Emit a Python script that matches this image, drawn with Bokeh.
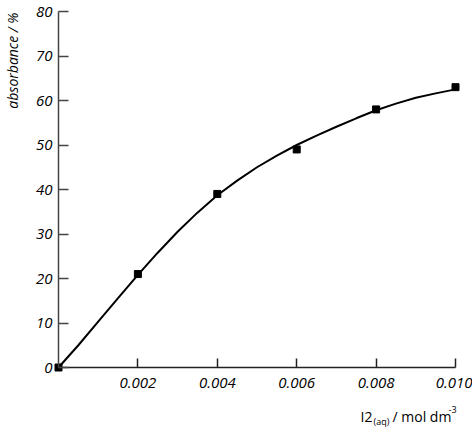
from bokeh.plotting import figure
from bokeh.models import Range1d, FixedTicker, Label
from bokeh.embed import file_html
from bokeh.resources import INLINE

# measured points
conc = [0.000, 0.002, 0.004, 0.006, 0.008, 0.010]
absorb = [0, 21, 39, 49, 58, 63]

# smooth curve
curve_x = [0.0000, 0.0005, 0.0010, 0.0015, 0.0020, 0.0025, 0.0030, 0.0035, 0.0040,
           0.0045, 0.0050, 0.0055, 0.0060, 0.0065, 0.0070, 0.0075, 0.0080,
           0.0085, 0.0090, 0.0095, 0.0100]
curve_y = [0.0, 5.0, 10.3, 15.6, 20.8, 25.8, 30.5, 34.8, 38.7,
           42.0, 45.0, 47.6, 50.0, 52.1, 54.1, 56.0, 57.8,
           59.3, 60.6, 61.6, 62.5]

x_ticks = [0.002, 0.004, 0.006, 0.008, 0.010]
x_tick_labels = ["0.002", "0.004", "0.006", "0.008", "0.010"]
y_ticks = [0, 10, 20, 30, 40, 50, 60, 70, 80]

FONT = "Open Sans"
W, H = 472, 429
# axes box inside the canvas (pixels): left, right, top, bottom
L, R, T, B = 58, 455, 11, 367
XMAX, YMAX = 0.010, 80
sx = (R - L) / XMAX
sy = (B - T) / YMAX

def dx(px):
    return (px - L) / sx

def dy(py):
    return (B - py) / sy

p = figure(width=W, height=H, output_backend="svg", toolbar_location=None,
           x_range=Range1d(dx(0), dx(W)), y_range=Range1d(dy(H), dy(0)),
           min_border=0)
p.outline_line_color = None
p.grid.visible = False
p.background_fill_color = "white"

p.line(curve_x, curve_y, line_color="black", line_width=2)
p.scatter(conc, absorb, marker="square", size=7, color="black")

xa = p.xaxis[0]
xa.fixed_location = 0
xa.bounds = (0, XMAX)
xa.ticker = FixedTicker(ticks=x_ticks)
xa.major_label_overrides = {t: s for t, s in zip(x_ticks, x_tick_labels)}
xa.major_tick_in = 9
xa.major_tick_out = 0
xa.minor_tick_line_color = None
xa.major_label_standoff = 10
xa.axis_line_color = "#222222"
xa.major_tick_line_color = "#222222"
xa.axis_line_width = 1.5
xa.major_tick_line_width = 1.5

ya = p.yaxis[0]
ya.fixed_location = 0
ya.bounds = (0, YMAX)
ya.ticker = FixedTicker(ticks=y_ticks)
ya.major_tick_in = 10
ya.major_tick_out = 0
ya.minor_tick_line_color = None
ya.major_label_standoff = 6
ya.axis_line_color = "#444444"
ya.major_tick_line_color = "#444444"
ya.axis_line_width = 1.5
ya.major_tick_line_width = 1.5

for ax in (xa, ya):
    ax.major_label_text_font = FONT
    ax.major_label_text_font_style = "italic"
    ax.major_label_text_font_size = "15px"
    ax.major_label_text_color = "black"

# axis titles
p.add_layout(Label(x=dx(12), y=dy(12), text="absorbance / %", angle=1.5708,
                   text_align="right", text_baseline="middle",
                   text_font=FONT, text_font_style="italic",
                   text_font_size="14px", text_color="black"))

p.add_layout(Label(x=dx(360), y=dy(416), text="I2", text_align="left",
                   text_baseline="alphabetic", text_font=FONT,
                   text_font_size="14px", text_color="black"))
p.add_layout(Label(x=dx(373), y=dy(421), text="(aq)", text_align="left",
                   text_baseline="alphabetic", text_font=FONT,
                   text_font_size="9px", text_color="black"))
p.add_layout(Label(x=dx(392), y=dy(416), text="/ mol dm", text_align="left",
                   text_baseline="alphabetic", text_font=FONT,
                   text_font_size="14px", text_color="black"))
p.add_layout(Label(x=dx(448), y=dy(409), text="-3", text_align="left",
                   text_baseline="alphabetic", text_font=FONT,
                   text_font_size="9px", text_color="black"))

open("out.html", "w").write(file_html(p, INLINE))
